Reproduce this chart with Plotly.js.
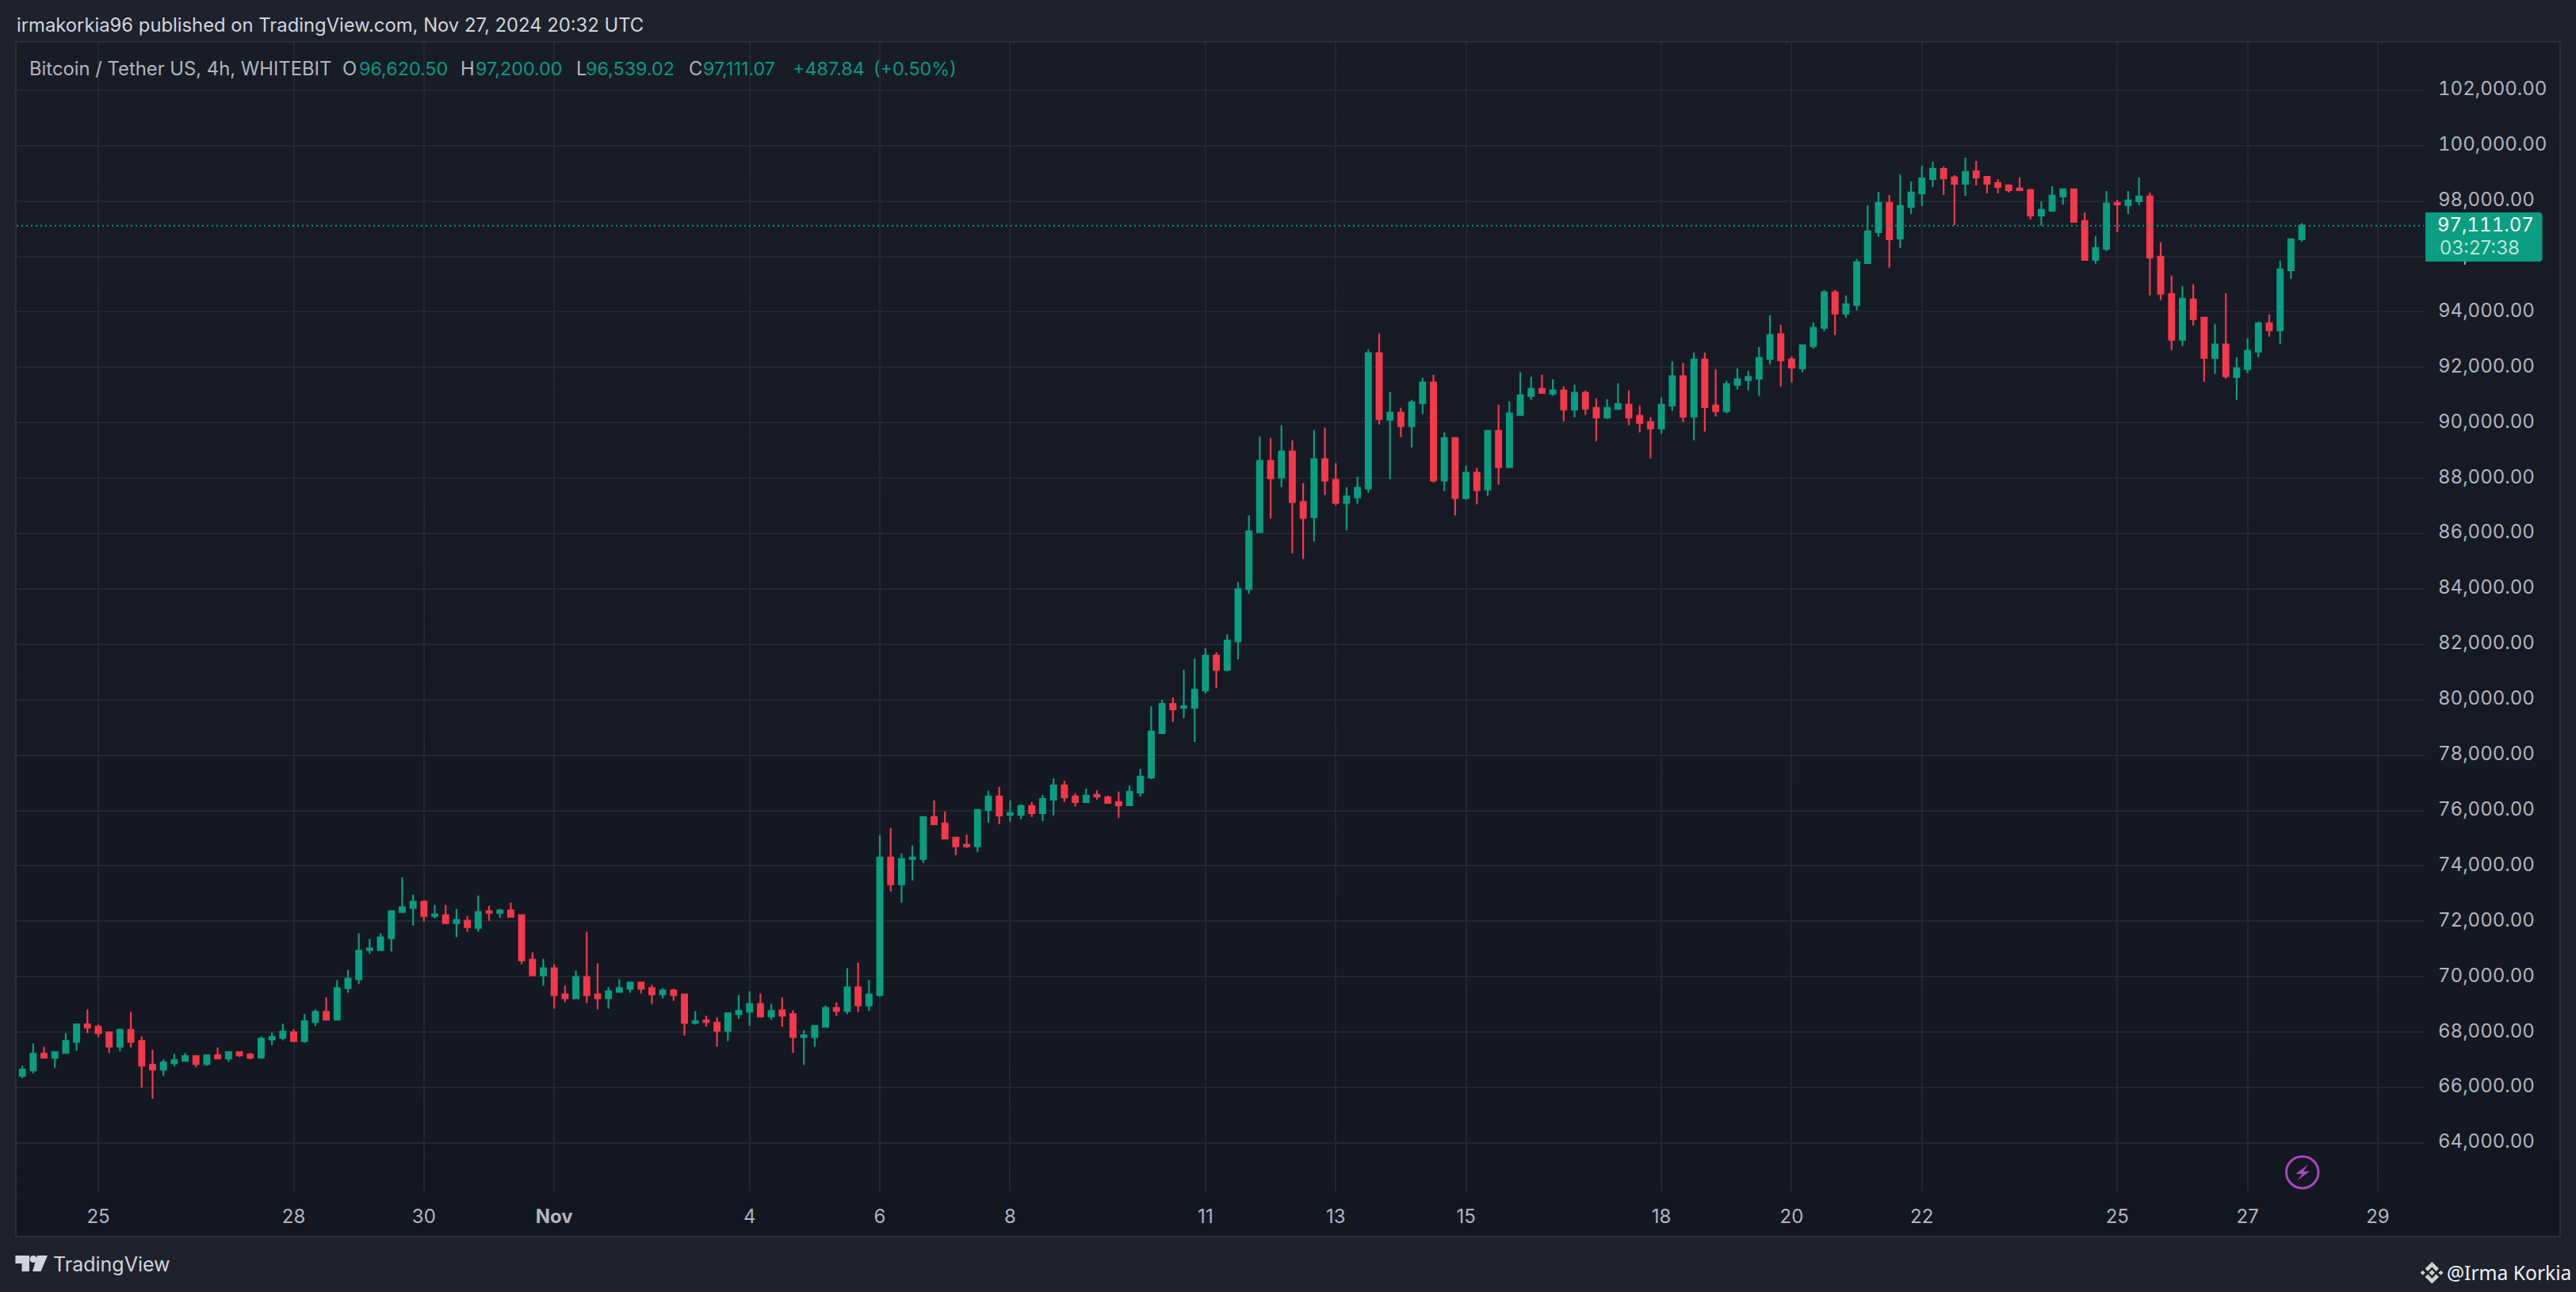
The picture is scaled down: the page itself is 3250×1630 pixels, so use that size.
<!DOCTYPE html>
<html><head><meta charset="utf-8">
<script src="https://cdn.plot.ly/plotly-3.0.1.min.js"></script>
<style>
html,body{margin:0;padding:0;background:#1e222d;width:3250px;height:1630px;overflow:hidden}
#pane{position:absolute;left:20px;top:53px;width:3210px;height:1507px;background:linear-gradient(#181c27,#131722)}
#chart{position:absolute;left:0;top:0;width:3250px;height:1630px}
.ytick text,.annotation[data-index="12"] text{font-variant-numeric:tabular-nums;font-feature-settings:"tnum" 1}
</style></head><body>
<div id="pane"></div><div id="chart"></div>
<script>
const firstBar = Date.UTC(2024, 9, 23, 20);
const barMs = 4 * 3600 * 1000;
const opens = [
66419,66619,67219,67076,67248,67648,68276,68190,67990,67476,
68076,67676,66819,66648,66876,66962,67133,66848,67162,67048,
67276,67190,67076,67733,67790,67990,67676,68362,68733,68448,
69590,69905,70962,70962,71391,72333,72476,72705,72190,72219,
71933,72019,71762,72362,72305,72391,72219,70619,70048,70305,
69362,69219,69990,69362,69219,69448,69562,69790,69590,69362,
69505,69362,68333,68419,68333,68048,68648,68733,69019,68562,
68790,68648,67819,67819,68190,68876,68762,69619,68962,69333,
74305,73333,74248,74248,75762,75533,75019,74762,74705,76019,
76505,75848,75848,76162,75905,76390,76905,76505,76305,76562,
76476,76305,76190,76648,77190,78790,79848,79705,79705,80333,
81591,81076,82105,83990,86048,88619,88019,88962,87133,86590,
88676,87933,87105,87305,87619,92505,90105,90362,89876,90705,
91448,87905,89448,87276,88190,87590,89705,88390,90276,90962,
91219,91048,91162,90476,91076,90533,90190,90505,90648,90248,
90019,89790,90619,91676,90219,92276,90619,90419,91362,91533,
91590,92305,93190,92276,91962,92762,93419,94705,93933,94248,
95762,96876,97933,96648,97790,98276,98790,99162,98848,98619,
99076,98876,98648,98562,98448,98390,97476,97648,98162,98419,
97276,95876,96276,97933,97848,97990,98162,95990,94648,92990,
94448,93790,92333,92819,91648,91933,92562,93590,93333,95505,96620.50];
const highs = [
66790,67590,67476,67305,67962,68305,68819,68276,68019,68133,
68733,67848,67362,67019,67219,67248,67162,67162,67448,67305,
67305,67248,67848,67990,68305,68105,68648,68819,69248,69876,
70248,71562,71362,71562,72391,73591,72962,72762,72590,72590,
72448,72190,72933,72562,72448,72676,72248,70876,70648,70448,
69676,70219,71619,70476,69619,69905,69790,69819,69705,69590,
69562,69362,68762,68590,68533,68676,69333,69476,69390,69019,
69248,68790,68076,68219,68962,69076,70305,70505,69876,75105,
75362,74448,74733,75790,76362,75962,75019,75133,76019,76705,
76848,76362,76219,76305,76562,77162,77076,76619,76790,76733,
76533,76676,76905,77505,79762,79990,80076,81076,81476,81848,
81705,82362,84248,86648,89505,89448,89905,89362,87819,89733,
89819,88533,87676,88048,92648,93219,91105,90533,90819,91619,
91733,89648,89448,88448,88362,89733,90648,90762,91819,91648,
91733,91562,91305,91362,91162,90876,90848,91419,91162,90619,
90190,90905,92219,92162,92533,92533,91933,91505,91962,91876,
92733,93876,93533,92390,92790,93619,94790,94790,94590,95905,
97848,98333,98219,98962,98705,99276,99419,99248,98933,99562,
99448,98905,98790,98590,98848,98448,97990,98533,98419,98419,
97590,96733,98362,98048,98362,98848,98305,96505,95305,94933,
94990,93790,93562,94676,92362,93048,93648,93905,95848,96619,97200.00];
const lows = [
66333,66505,67060,66705,67248,67333,67962,67819,67248,67305,
67448,65990,65590,66419,66762,66962,66733,66790,67048,66933,
67105,67019,67076,67533,67705,67676,67619,68219,68419,68448,
69419,69733,70819,70962,70905,72333,71848,71990,72105,71905,
71419,71619,71619,72019,72133,72133,70448,70019,69676,68848,
69076,69219,69048,68819,68848,69448,69419,69390,69019,69219,
69133,67876,68276,68190,67476,67676,68476,68219,68562,68448,
68190,67248,66819,67476,68190,68590,68648,68733,68762,69276,
73076,72676,73476,74105,75476,74990,74390,74648,74505,75562,
75505,75590,75676,75762,75619,75819,76305,76133,76305,76390,
76276,75733,76162,76505,77133,78790,79190,79333,78476,80219,
80419,81019,81448,83819,86048,86533,87676,85276,85076,85705,
87390,87019,86105,87076,87476,89933,87962,89476,89105,90305,
87848,87533,86648,87219,87048,87362,87762,88362,90276,90819,
91048,90962,90048,90190,90276,89333,90133,90448,89905,89648,
88705,89590,90419,90019,89362,89676,90219,90333,91190,91162,
90962,92105,91305,91448,91819,92676,93305,93162,93790,94048,
95762,96705,95590,96305,97533,97819,98505,98219,97133,98190,
98562,98276,98276,98305,98390,97333,97105,97619,97876,97219,
95876,95733,96190,96876,97533,97848,94590,94419,92619,92762,
93505,91476,91762,91590,90819,91790,92362,93105,92848,95190,96539.02];
const closes = [
66648,67219,67076,67276,67676,68276,68162,67962,67476,68076,
67648,66790,66648,66905,66990,67133,66848,67162,67048,67276,
67162,67076,67762,67819,68019,67676,68390,68733,68448,69590,
69933,70933,71019,71419,72362,72505,72705,72190,72248,71933,
72048,71791,72333,72305,72391,72162,70590,70048,70305,69333,
69219,69990,69333,69219,69476,69590,69790,69562,69362,69505,
69333,68333,68390,68362,68048,68676,68762,69019,68562,68762,
68590,67819,67876,68219,68876,68762,69619,68962,69362,74305,
73333,74248,74305,75762,75505,74990,74705,74705,76019,76505,
75819,75905,76162,75905,76419,76905,76476,76305,76533,76505,
76276,76190,76676,77219,78848,79848,79648,79762,80362,81591,
81076,82133,83990,86076,88619,87990,88962,87133,86562,88676,
87905,87105,87333,87648,92505,90133,90362,89876,90733,91448,
87905,89448,87276,88190,87562,89705,88390,90333,90990,91219,
91076,91162,90476,91076,90505,90190,90533,90676,90190,89990,
89790,90648,91676,90219,92276,90562,90419,91390,91562,91648,
92333,93162,92248,91990,92790,93419,94705,93933,94276,95790,
96905,97933,96619,97819,98305,98819,99162,98819,98619,99048,
98848,98619,98505,98390,98390,97476,97676,98190,98419,97248,
95876,96305,97905,97876,98019,98162,95962,94648,92990,94476,
93733,92333,92819,91676,91962,92590,93590,93333,95533,96619,97111.07];
const tickDates = ['2024-10-25','2024-10-28','2024-10-30','2024-11-01','2024-11-04','2024-11-06','2024-11-08','2024-11-11','2024-11-13','2024-11-15','2024-11-18','2024-11-20','2024-11-22','2024-11-25','2024-11-27','2024-11-29'];
const tickLabels = ['25','28','30','<b>Nov</b>','4','6','8','11','13','15','18','20','22','25','27','29'];
const priceTicks = [64000,66000,68000,70000,72000,74000,76000,78000,80000,82000,84000,86000,88000,90000,92000,94000,96000,98000,100000,102000];
const lastPrice = 97111.07;

const W = 3250, H = 1630;
const px = x => x / W, py = y => 1 - y / H;
const GREEN = '#099e80', RED = '#f5384a', GRID = '#232731', TXT = '#b2b5be', UI = 'Inter, "Noto Sans", sans-serif';
const times = closes.map((_, i) => new Date(firstBar + i * barMs).toISOString().slice(0, 16).replace('T', ' '));

// pane geometry
const L = 21, R = 3058, T = 54, B = 1503;
const dayPx = 82.17, x25 = 124, dayMs = 864e5, t25 = Date.UTC(2024, 9, 25);
const xAt = p => t25 + (p - x25) / dayPx * dayMs;
const y100 = 183.7, pxPerUnit = 0.03495;
const yAt = p => 100000 - (p - y100) / pxPerUnit;

const ann = (x, y, text, color, size, opts = {}) => Object.assign({
  xref: 'paper', yref: 'paper', x: px(x), y: py(y), text, showarrow: false,
  xanchor: 'left', yanchor: 'middle', font: {family: UI, size, color}, borderpad: 0
}, opts);
const poly = (pts, color) => ({
  type: 'path', xref: 'paper', yref: 'paper', layer: 'above', fillcolor: color,
  line: {width: 0}, path: 'M' + pts.map(p => px(p[0]) + ',' + py(p[1])).join('L') + 'Z'
});
const diamond = (cx, cy, r, c) => poly([[cx, cy - r], [cx + r, cy], [cx, cy + r], [cx - r, cy]], c);

const LG = '#b2b5be', GT = '#089981';
const annotations = [
  ann(20, 32, 'irmakorkia96 published on TradingView.com, Nov 27, 2024 20:32 UTC', '#d1d4dc', 23.8),
  ann(36, 86, 'Bitcoin / Tether US, 4h, WHITEBIT', LG, 23.8),
  ann(431, 86, 'O', LG, 23.8), ann(452, 86, '96,620.50', GT, 23.3),
  ann(580, 86, 'H', LG, 23.8), ann(599, 86, '97,200.00', GT, 23.3),
  ann(725.5, 86, 'L', LG, 23.8), ann(738, 86, '96,539.02', GT, 23.3),
  ann(868, 86, 'C', LG, 23.8), ann(885.5, 86, '97,111.07', GT, 23.3),
  ann(999, 86, '+487.84', GT, 23.3), ann(1101, 86, '(+0.50%)', GT, 23.3),
  ann(3135.5, 283, '97,111.07', '#ffffff', 24, {xanchor: 'center'}),
  ann(3077, 312, '03:27:38', 'rgba(255,255,255,0.72)', 24),
  ann(66, 1595, 'TradingView', '#d1d4dc', 25),
  ann(3086, 1605, '@Irma Korkia', '#f0f3fa', 24.6, {font: {family: '"Noto Sans", sans-serif', size: 24.6, color: '#f0f3fa'}})
];

const BN = '#cfcfcf', TV = '#d1d4dc';
const shapes = [
  {type: 'rect', xref: 'paper', yref: 'paper', layer: 'below', x0: px(20), x1: px(3230), y0: py(53), y1: py(1560), line: {color: '#2a2e39', width: 2}, fillcolor: 'rgba(0,0,0,0)'},
  {type: 'line', xref: 'paper', yref: 'y', layer: 'above', x0: px(L), x1: px(R), y0: lastPrice, y1: lastPrice, line: {color: GT, width: 2, dash: '2px,4px'}},
  {type: 'path', xref: 'paper', yref: 'paper', layer: 'above', fillcolor: GREEN, line: {width: 0},
   path: `M${px(3060)},${py(268)}L${px(3203)},${py(268)}Q${px(3207.5)},${py(268)} ${px(3207.5)},${py(272)}L${px(3207.5)},${py(326)}Q${px(3207.5)},${py(330)} ${px(3203)},${py(330)}L${px(3060)},${py(330)}Z`},
  {type: 'circle', xref: 'paper', yref: 'paper', layer: 'above', x0: px(2884.5), x1: px(2925), y0: py(1459), y1: py(1499), line: {color: '#ab47bc', width: 3}},
  poly([[2912.2, 1469], [2896.4, 1481], [2904.5, 1481], [2898.5, 1489.3], [2914, 1477.7], [2905.9, 1477.7]], '#ab47bc'),
  poly([[19.4, 1584], [37, 1584], [37, 1604], [27.5, 1604], [27.5, 1594], [19.4, 1594]], TV),
  {type: 'circle', xref: 'paper', yref: 'paper', layer: 'above', x0: px(37.5), x1: px(46.5), y0: py(1584), y1: py(1593), fillcolor: TV, line: {width: 0}},
  poly([[47, 1584], [60, 1584], [51.5, 1604], [41, 1604]], TV),
  diamond(3068.3, 1605.7, 3.6, BN), diamond(3056.7, 1605.7, 3, BN), diamond(3079.5, 1605.7, 3, BN),
  poly([[3068.3, 1592], [3077, 1600.5], [3073.5, 1604], [3068.3, 1598.5], [3063, 1604], [3059.7, 1600.5]], BN),
  poly([[3068.3, 1619.4], [3077, 1610.9], [3073.5, 1607.4], [3068.3, 1612.9], [3063, 1607.4], [3059.7, 1610.9]], BN)
];

const trace = {
  type: 'candlestick', x: times, open: opens, high: highs, low: lows, close: closes,
  increasing: {line: {color: GREEN, width: 2.2}, fillcolor: GREEN},
  decreasing: {line: {color: RED, width: 2.2}, fillcolor: RED},
  whiskerwidth: 0, hoverinfo: 'skip', showlegend: false
};
const layout = {
  width: W, height: H, margin: {l: 0, r: 0, t: 0, b: 0, pad: 0},
  paper_bgcolor: 'rgba(0,0,0,0)', plot_bgcolor: 'rgba(0,0,0,0)', showlegend: false, boxgap: 0.3,
  font: {family: UI, color: TXT, size: 24},
  xaxis: {
    type: 'date', domain: [px(L), px(R)], range: [xAt(L), xAt(R)], rangeslider: {visible: false},
    tickmode: 'array', tickvals: tickDates, ticktext: tickLabels, tickangle: 0,
    showgrid: true, gridcolor: GRID, gridwidth: 2, zeroline: false, showline: false, ticks: '',
    ticklabelstandoff: 15, tickfont: {family: UI, size: 24, color: TXT}, fixedrange: true
  },
  yaxis: {
    side: 'right', domain: [py(B), py(T)], range: [yAt(B), yAt(T)],
    tickmode: 'array', tickvals: priceTicks, tickformat: ',.2f',
    showgrid: true, gridcolor: GRID, gridwidth: 2, zeroline: false, showline: false, ticks: '',
    ticklabelstandoff: 17, ticklabelshift: -2, tickfont: {family: UI, size: 24, color: TXT}, fixedrange: true
  },
  shapes, annotations
};
Plotly.newPlot('chart', [trace], layout, {displayModeBar: false, staticPlot: true});
</script>
</body></html>
